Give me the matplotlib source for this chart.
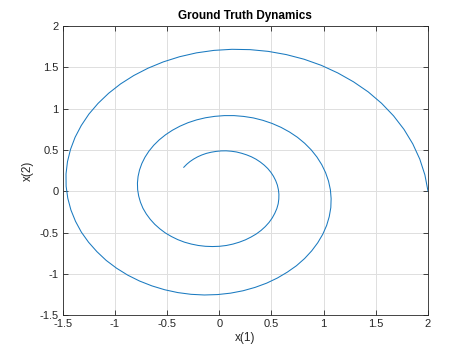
import numpy as np
import matplotlib
matplotlib.use("Agg")
import matplotlib.pyplot as plt

# spiral points, x(1) and x(2)
x1 = [2.000, 1.970, 1.921, 1.854, 1.770, 1.670, 1.555, 1.427, 1.286, 1.136,
      0.978, 0.813, 0.643, 0.470, 0.296, 0.122, -0.050, -0.218, -0.380, -0.535,
      -0.681, -0.818, -0.945, -1.059, -1.160, -1.248, -1.321, -1.380, -1.424, -1.453,
      -1.467, -1.466, -1.450, -1.420, -1.376, -1.320, -1.251, -1.171, -1.082, -0.983,
      -0.876, -0.763, -0.644, -0.521, -0.396, -0.269, -0.142, -0.016, 0.108, 0.228,
      0.344, 0.454, 0.557, 0.652, 0.740, 0.818, 0.886, 0.944, 0.992, 1.029,
      1.054, 1.069, 1.072, 1.065, 1.047, 1.019, 0.982, 0.936, 0.881, 0.818,
      0.749, 0.673, 0.592, 0.507, 0.418, 0.327, 0.235, 0.142, 0.049, -0.042,
      -0.131, -0.217, -0.299, -0.376, -0.448, -0.514, -0.574, -0.627, -0.673, -0.711,
      -0.741, -0.763, -0.777, -0.783, -0.781, -0.771, -0.754, -0.730, -0.698, -0.660,
      -0.617, -0.568, -0.515, -0.457, -0.397, -0.333, -0.267, -0.200, -0.132, -0.064,
      0.003, 0.069, 0.132, 0.193, 0.251, 0.305, 0.355, 0.401, 0.441, 0.477,
      0.508, 0.532, 0.552, 0.565, 0.571, 0.572, 0.567, 0.557, 0.541, 0.520,
      0.495, 0.465, 0.431, 0.393, 0.352, 0.308, 0.263, 0.216, 0.166, 0.117,
      0.067, 0.018, -0.030, -0.077, -0.123, -0.166, -0.207, -0.245, -0.280, -0.311,
      -0.339]
x2 = [0.000, 0.198, 0.389, 0.573, 0.748, 0.912, 1.064, 1.202, 1.324, 1.431,
      1.523, 1.597, 1.653, 1.692, 1.713, 1.717, 1.704, 1.674, 1.627, 1.565,
      1.489, 1.400, 1.298, 1.185, 1.063, 0.933, 0.795, 0.653, 0.506, 0.358,
      0.209, 0.061, -0.085, -0.227, -0.364, -0.495, -0.617, -0.731, -0.837, -0.931,
      -1.015, -1.086, -1.145, -1.192, -1.226, -1.247, -1.255, -1.250, -1.233, -1.204,
      -1.163, -1.112, -1.050, -0.979, -0.901, -0.814, -0.721, -0.623, -0.520, -0.414,
      -0.307, -0.198, -0.089, 0.018, 0.123, 0.225, 0.322, 0.414, 0.501, 0.581,
      0.653, 0.717, 0.773, 0.820, 0.858, 0.887, 0.905, 0.915, 0.915, 0.906,
      0.889, 0.863, 0.829, 0.787, 0.738, 0.683, 0.622, 0.556, 0.485, 0.411,
      0.335, 0.257, 0.178, 0.099, 0.019, -0.058, -0.133, -0.206, -0.275, -0.340,
      -0.400, -0.455, -0.505, -0.548, -0.585, -0.616, -0.639, -0.656, -0.666, -0.669,
      -0.666, -0.656, -0.639, -0.616, -0.588, -0.554, -0.517, -0.474, -0.428, -0.378,
      -0.323, -0.268, -0.210, -0.152, -0.094, -0.036, 0.019, 0.075, 0.129, 0.181,
      0.229, 0.275, 0.316, 0.354, 0.388, 0.417, 0.440, 0.459, 0.475, 0.484,
      0.489, 0.488, 0.482, 0.472, 0.458, 0.439, 0.416, 0.389, 0.359, 0.326,
      0.290]

xticks = [-1.5, -1, -0.5, 0, 0.5, 1, 1.5, 2]
yticks = [-1.5, -1, -0.5, 0, 0.5, 1, 1.5, 2]

plt.rcParams['font.family'] = ['Liberation Sans', 'DejaVu Sans']
plt.rcParams['axes.unicode_minus'] = False
axcol = '#262626'

fig = plt.figure(figsize=(4.74, 3.55), dpi=100)
ax = fig.add_axes([0.132, 0.112, 0.771, 0.815])

ax.plot(x1, x2, color='#1a7ac0', lw=0.75)

ax.set_xlim(-1.5, 2)
ax.set_ylim(-1.5, 2)
ax.set_xticks(xticks)
ax.set_yticks(yticks)
ax.set_xticklabels(['%g' % t for t in xticks])
ax.set_yticklabels(['%g' % t for t in yticks])
ax.grid(True, color='#dfdfdf', lw=0.7)
ax.set_axisbelow(True)
ax.tick_params(direction='in', top=True, right=True, length=3.5, width=0.6,
               colors=axcol, labelsize=8, pad=3)
for s in ax.spines.values():
    s.set_color(axcol)
    s.set_linewidth(0.6)

ax.set_xlabel('x(1)', fontsize=8.5, color=axcol, labelpad=2)
ax.set_ylabel('x(2)', fontsize=8.5, color=axcol, labelpad=4)
ax.set_title('Ground Truth Dynamics', fontsize=8.5, fontweight='bold', pad=5)

fig.savefig('out.png', dpi=100)
